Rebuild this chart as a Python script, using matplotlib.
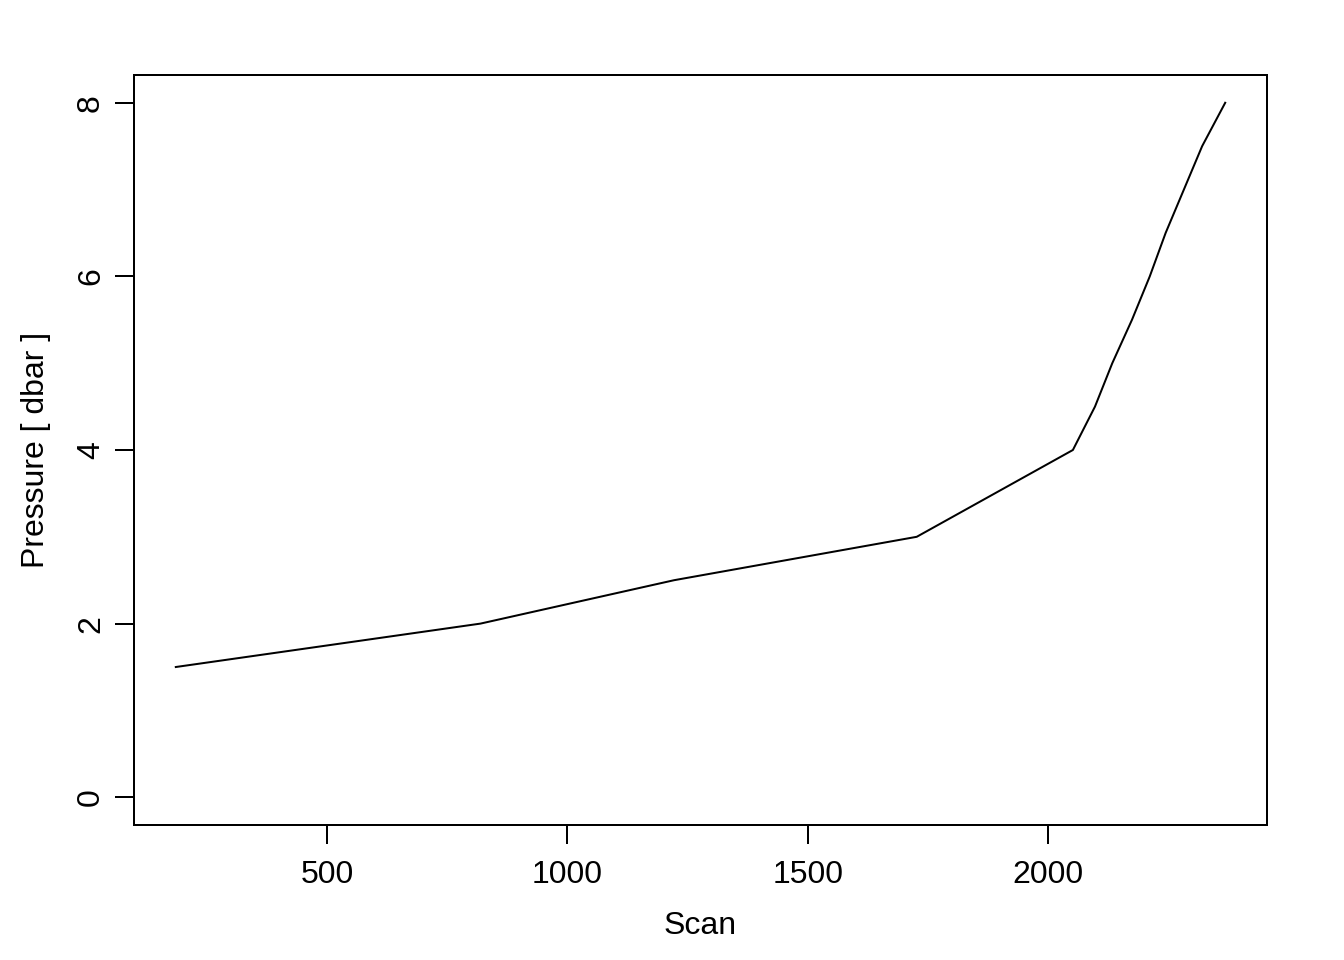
import matplotlib
matplotlib.use('Agg')
import matplotlib.pyplot as plt

scan = [185, 819, 1222, 1727, 2052, 2098, 2134, 2175, 2212, 2245, 2283, 2321, 2369]
pressure = [1.5, 2.0, 2.5, 3.0, 4.0, 4.5, 5.0, 5.5, 6.0, 6.5, 7.0, 7.5, 8.0]

plt.rcParams['font.family'] = ['Liberation Sans', 'DejaVu Sans']
plt.rcParams['font.size'] = 12

fig = plt.figure(figsize=(7, 5), dpi=192)
ax = fig.add_axes([134 / 1344, 1 - 825 / 960, (1267 - 134) / 1344, (825 - 75) / 960])

ax.plot(scan, pressure, color='black', lw=0.75)

ax.set_xlim(98, 2456)
ax.set_ylim(-0.32, 8.32)
ax.set_xticks([500, 1000, 1500, 2000])
ax.set_yticks([0, 2, 4, 6, 8])
for s in ax.spines.values():
    s.set_linewidth(0.75)
ax.tick_params(direction='out', length=7, width=0.75, labelsize=12)
ax.tick_params(axis='x', pad=6)
ax.tick_params(axis='y', pad=3.5)
for lab in ax.get_yticklabels():
    lab.set_rotation(90)
    lab.set_verticalalignment('center')

ax.set_xlabel('Scan', fontsize=12, labelpad=8)
ax.set_ylabel('Pressure [ dbar ]', fontsize=12, labelpad=9.5)

fig.savefig('out.png', dpi=192)
